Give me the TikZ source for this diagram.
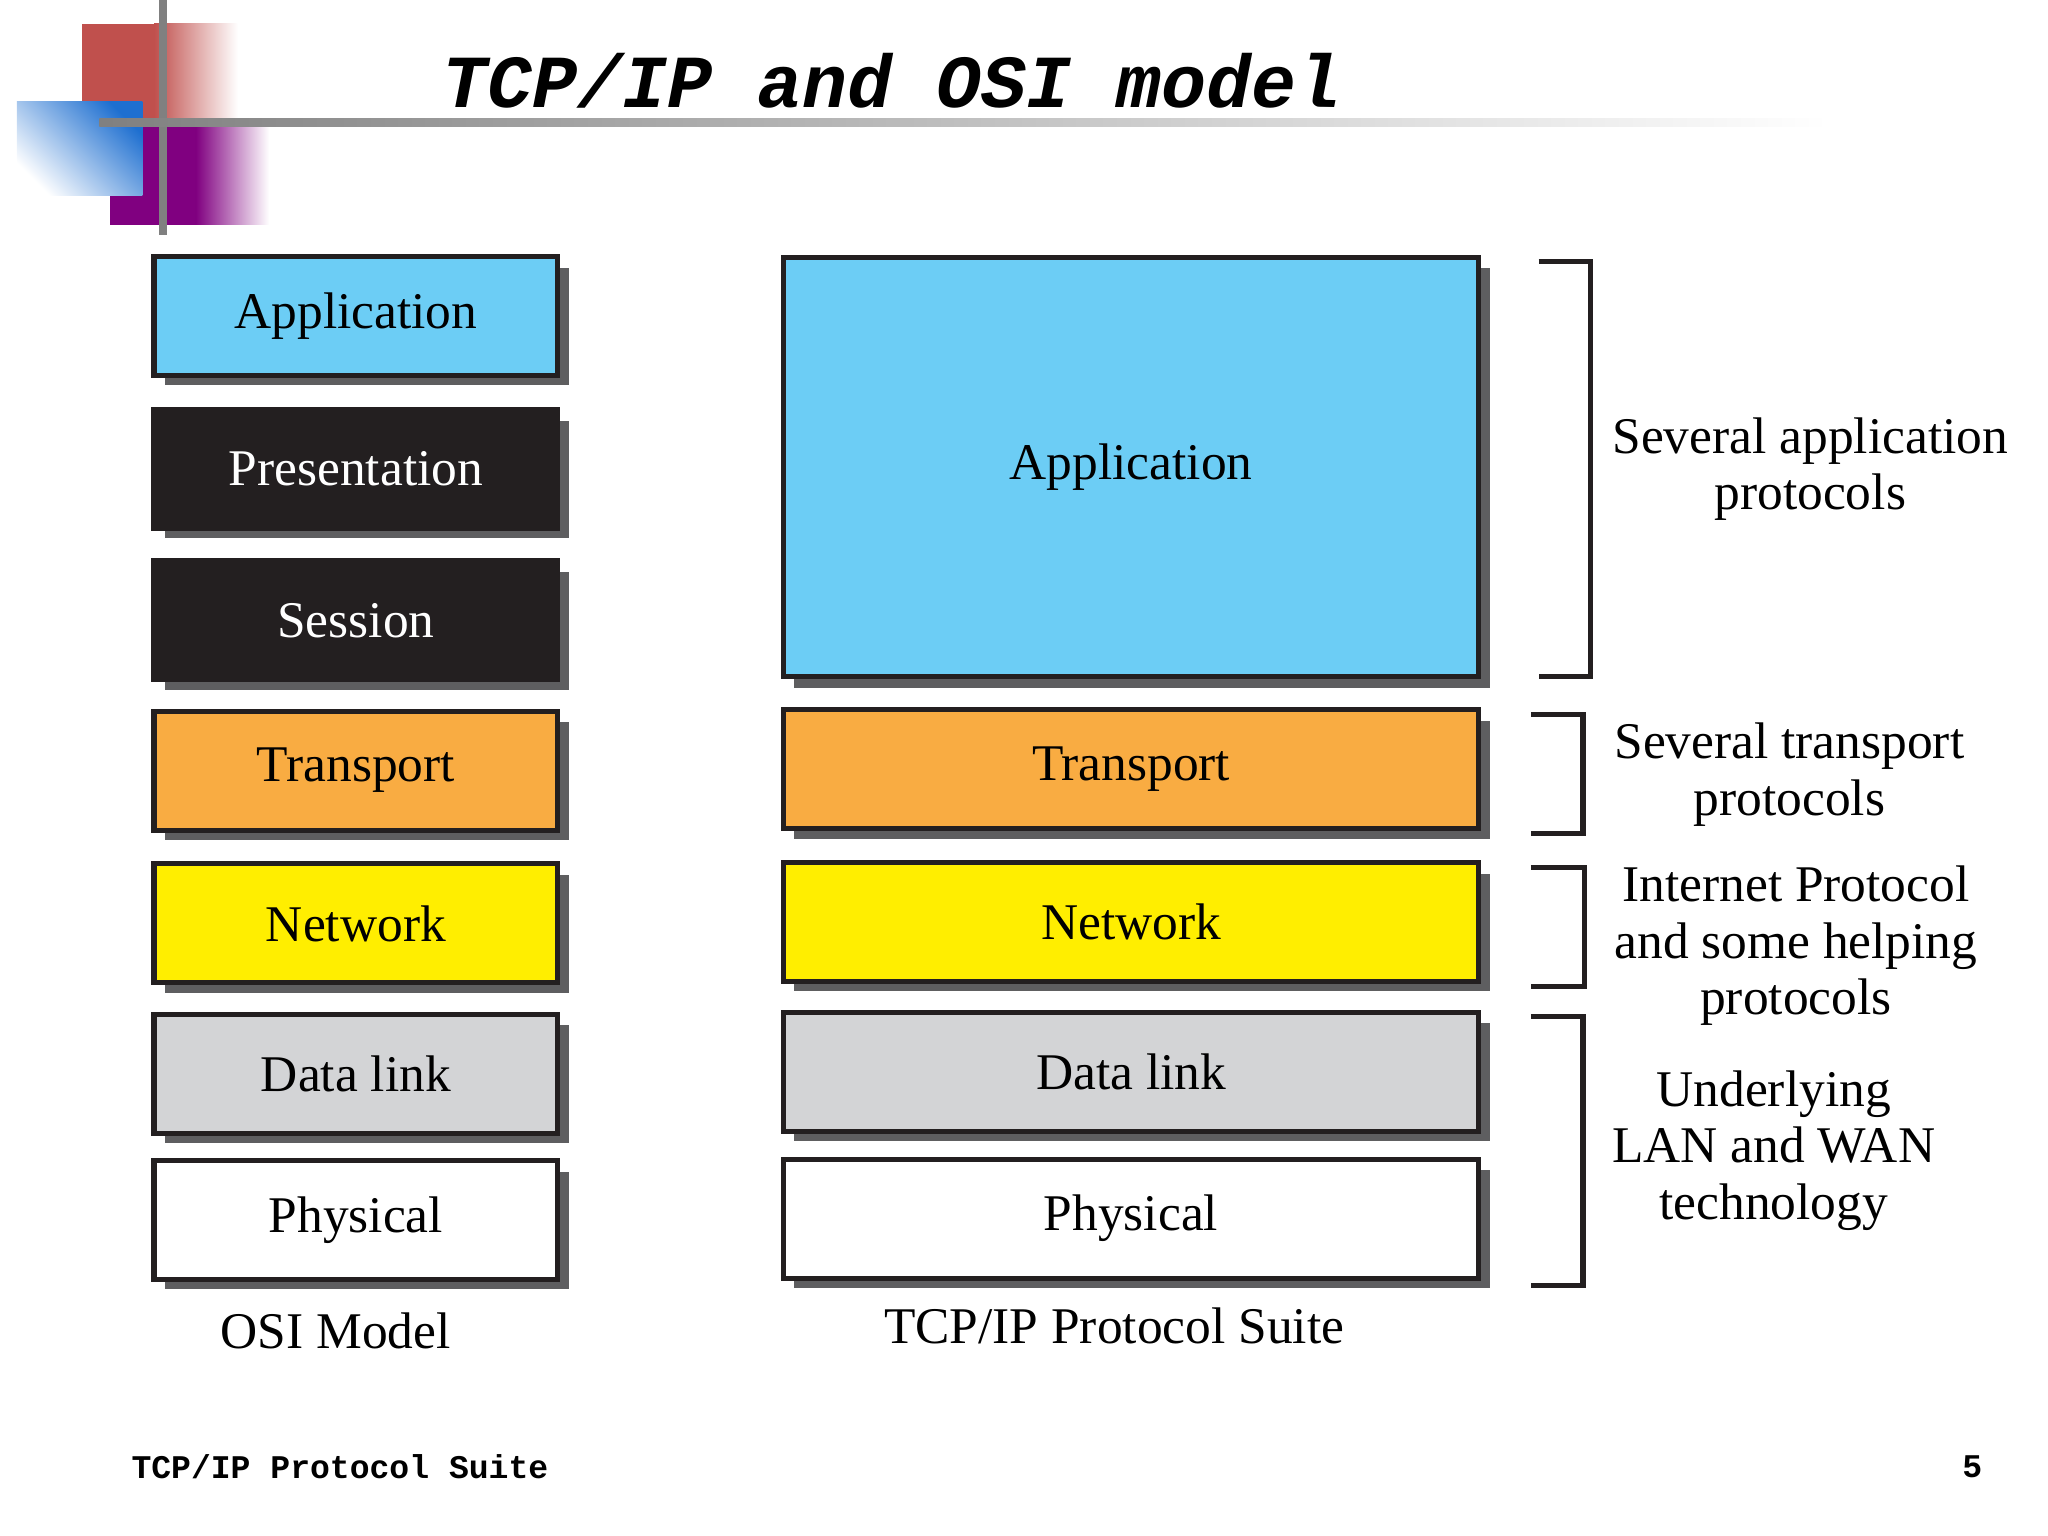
\documentclass[tikz,border=0pt]{standalone}
\usepackage{fontspec}
\setmainfont{Liberation Serif}
\newfontfamily\monof{Liberation Mono}
\definecolor{appblue}{HTML}{6CCDF5}
\definecolor{tporange}{HTML}{F9AC42}
\definecolor{netyellow}{HTML}{FFEE00}
\definecolor{dlgray}{HTML}{D3D4D6}
\definecolor{layblack}{HTML}{231F20}
\definecolor{shadowgray}{HTML}{5E5E60}
\definecolor{logored}{HTML}{C0504D}
\definecolor{logopurple}{HTML}{800080}
\definecolor{logoblue}{HTML}{1E6FD0}
\tikzset{
  layer/.style={draw=layblack,line width=1.1pt,minimum width=3.09cm,minimum height=0.91cm,
    inner sep=0pt,font=\fontsize{11.2}{13}\selectfont},
  shadow/.style={fill=shadowgray,draw=none},
  side/.style={font=\fontsize{11.2}{12.3}\selectfont,align=center},
  bracket/.style={line width=1.1pt,draw=layblack}
}
\begin{document}
\begin{tikzpicture}[x=0.01cm,y=-0.01cm]
		\useasboundingbox (0,0) rectangle (1568,1176);
		% logo
		\fill[logored] (63,18) rectangle (118,120);
		\shade[left color=logored,right color=white] (118,18) rectangle (182,120);
		\fill[logopurple] (84,97) rectangle (150,172);
		\shade[left color=logopurple,right color=white] (150,97) rectangle (206,172);
		\shade[shading=axis,top color=logoblue,bottom color=white,shading angle=-45] (13,78) rectangle (109,150);
		\fill[gray] (122,0) rectangle (128,180);
		\shade[left color=gray,right color=white] (76,91) rectangle (1400,97);
		\node[font=\monof\bfseries\itshape\fontsize{16.3}{20}\selectfont] (title) at (683,62) {TCP/IP and OSI model};
		% OSI model
		\foreach \name/\yc/\col/\txt/\tcol in {oapp/242/appblue/Application/black,opres/359/layblack/Presentation/white,%
			osess/475/layblack/Session/white,otrans/590/tporange/Transport/black,onet/707/netyellow/Network/black,%
			odl/822/dlgray/Data link/black,ophy/934/white/Physical/black}{
			\fill[shadow] (126,\yc-37) rectangle (436,\yc+53);
			\node[layer,fill=\col,text=\tcol] (\name) at (272.5,\yc) {\txt};
		}
		\node[font=\fontsize{11.2}{13}\selectfont] (osilbl) at (257,1019) {OSI Model};
		% TCP/IP suite
		\fill[shadow] (608,205) rectangle (1141,527);
		\node[layer,fill=appblue,minimum width=5.32cm,minimum height=3.21cm] (tapp) at (866,357.5) {Application};
		\foreach \name/\yc/\col/\txt in {ttrans/589/tporange/Transport,tnet/706/netyellow/Network,%
			tdl/820.5/dlgray/Data link,tphy/933/white/Physical}{
			\fill[shadow] (608,\yc-37) rectangle (1141,\yc+53);
			\node[layer,fill=\col,minimum width=5.32cm] (\name) at (866,\yc) {\txt};
		}
		\node[font=\fontsize{11.2}{13}\selectfont] (tcplbl) at (853,1015) {TCP/IP Protocol Suite};
		% brackets
		\draw[bracket] (1178,200) -- (1218,200) -- (1218,518) -- (1178,518);
		\draw[bracket] (1172,547) -- (1212,547) -- (1212,638) -- (1172,638);
		\draw[bracket] (1172,664) -- (1213,664) -- (1213,755) -- (1172,755);
		\draw[bracket] (1172,778) -- (1212,778) -- (1212,984) -- (1172,984);
		\node[side] (appnote) at (1386,359) {Several application\\protocols};
		\node[side] (tpnote) at (1370,593) {Several transport\\protocols};
		\node[side] (ipnote) at (1375,724) {Internet Protocol\\and some helping\\protocols};
		\node[side] (lannote) at (1358,881) {Underlying\\LAN and WAN\\technology};
		% footer
		\node[anchor=west,inner sep=0pt,font=\monof\bfseries\fontsize{7.2}{9}\selectfont] (foot) at (100,1123) {TCP/IP Protocol Suite};
		\node[font=\monof\bfseries\fontsize{7.2}{9}\selectfont] (pagenum) at (1510,1123) {5};
	\end{tikzpicture}
\end{document}
